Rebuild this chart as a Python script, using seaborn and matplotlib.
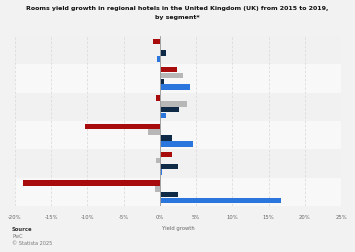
import pandas as pd
import matplotlib
matplotlib.use("Agg")
import matplotlib.pyplot as plt
import seaborn as sns

# rows of the chart (labels are not shown in the reference)
groups = ["A", "B", "C", "D", "E", "F"]
series = ["s1", "s2", "s3", "s4"]
colors = ["#a80b0b", "#b7b7b7", "#0f2a47", "#2a76dd"]

s1 = [-1.0, 2.3, -0.5, -10.4, 1.6, -18.9]
s2 = [0.2, 3.2, 3.8, -1.7, -0.5, -0.7]
s3 = [0.8, 0.6, 2.7, 1.6, 2.5, 2.5]
s4 = [-0.45, 4.2, 0.8, 4.5, 0.3, 16.7]

xticks = [-20, -15, -10, -5, 0, 5, 10, 15, 20, 25]
xticklabels = ["-20%", "-15%", "-10%", "-5%", "0%", "5%", "10%", "15%", "20%", "25%"]

rows = []
for name, vals in zip(series, [s1, s2, s3, s4]):
    for g, v in zip(groups, vals):
        rows.append({"group": g, "series": name, "value": v})
data = pd.DataFrame(rows)

sns.set_style("white")
plt.rcParams["font.family"] = ["DejaVu Sans"]

fig = plt.figure(figsize=(3.55, 2.53), dpi=100, facecolor="#f2f2f2")
ax = fig.add_axes([0.042, 0.182, 0.919, 0.672])
ax.set_facecolor("#f2f2f2")

# alternating row bands
for i in range(len(groups)):
    ax.axhspan(i - 0.5, i + 0.5, color="#f1f1f1" if i % 2 == 0 else "#f8f8f8", zorder=0, lw=0)

sns.barplot(data=data, x="value", y="group", hue="series", palette=colors,
            orient="h", width=0.82, gap=0.05, linewidth=0, saturation=1,
            ax=ax, legend=False, zorder=3)

for x in xticks:
    if x != 0:
        ax.axvline(x, color="#dcdcdc", lw=0.6, ls=(0, (3, 2)), zorder=1)
ax.axvline(0, color="#a0a0a0", lw=0.7, zorder=4)

ax.set_xlim(-20, 25)
ax.set_ylim(len(groups) - 0.5, -0.5)
ax.set_xticks(xticks)
ax.set_xticklabels(xticklabels, fontsize=3.8, color="#666666")
ax.set_yticks([])
ax.tick_params(axis="x", length=0, pad=6)
ax.set_xlabel("Yield growth", fontsize=3.8, color="#666666", labelpad=4)
ax.set_ylabel("")
for s in ax.spines.values():
    s.set_visible(False)

fig.text(0.5, 0.975, "Rooms yield growth in regional hotels in the United Kingdom (UK) from 2015 to 2019,\nby segment*",
         ha="center", va="top", fontsize=4.5, fontweight="bold", color="#111111", linespacing=1.9)

fig.text(0.034, 0.085, "Source", fontsize=3.8, fontweight="bold", color="#333333")
fig.text(0.034, 0.058, "PwC", fontsize=3.6, color="#777777")
fig.text(0.034, 0.031, "© Statista 2025", fontsize=3.6, color="#777777")

plt.savefig("out.png", dpi=100, facecolor=fig.get_facecolor())
